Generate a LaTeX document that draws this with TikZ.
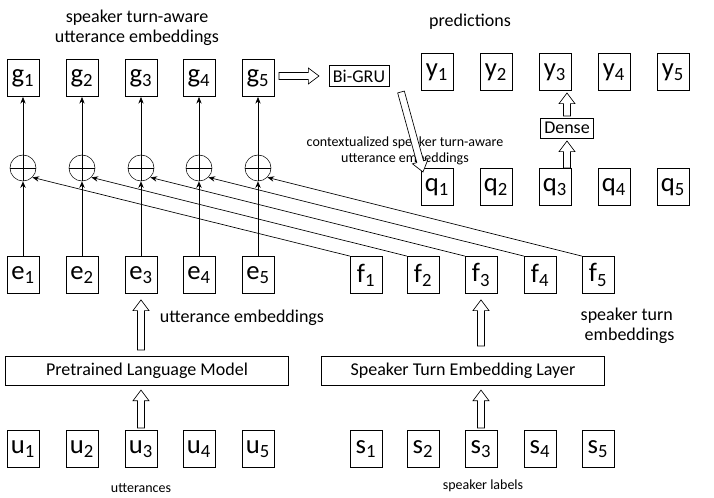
\documentclass[tikz,border=0pt]{standalone}
\usepackage{fontspec}
\setmainfont{Carlito}
\usetikzlibrary{arrows.meta,calc}
\newcommand\harrow[2]{\draw[line width=0.5pt,fill=white] let \p1=(#1),\p2=(#2),\n1={atan2(\y2-\y1,\x2-\x1)},\n2={veclen(\x2-\x1,\y2-\y1)} in [shift={(\p1)},rotate=\n1] (0pt,-2.6pt)--(\n2-8pt,-2.6pt)--(\n2-8pt,-6pt)--(\n2,0pt)--(\n2-8pt,6pt)--(\n2-8pt,2.6pt)--(0pt,2.6pt)--cycle;}
\begin{document}
\begin{tikzpicture}[x=0.75pt,y=-0.75pt,
  bx/.style={draw,minimum width=24pt,minimum height=28pt,inner sep=1pt,font=\fontsize{20}{21}\selectfont},
  wb/.style={draw,inner sep=3pt,font=\fontsize{13.5}{14}\selectfont},
  lab/.style={font=\fontsize{13.5}{15}\selectfont,align=center},
  pl/.style={draw,circle,minimum size=19.5pt,inner sep=0pt},
  ar/.style={-{Stealth[length=5pt,width=4pt]},line width=0.5pt}]
\useasboundingbox (0,0) rectangle (714,498);
\foreach \i/\x in {1/23,2/82,3/141,4/199,5/258}{
  \node[bx] (g\i) at (\x,78) {g\textsubscript{\i}};
  \node[pl] (p\i) at (\x,168) {};
  \draw[line width=0.4pt] (p\i.north)--(p\i.south) (p\i.west)--(p\i.east);
  \node[bx] (e\i) at (\x,275) {e\textsubscript{\i}};
  \node[bx] (u\i) at (\x,449) {u\textsubscript{\i}};
  \draw[ar] (e\i)--(p\i);
  \draw[ar] (p\i)--(g\i);
}
\foreach \i/\x in {1/366,2/423,3/481,4/540,5/598}{
  \node[bx] (f\i) at (\x,275) {f\textsubscript{\i}};
  \node[bx] (s\i) at (\x,449) {s\textsubscript{\i}};
  \draw[ar] (f\i.north west)--(p\i.south east);
}
\foreach \i/\x in {1/437,2/496,3/555,4/614,5/673}{
  \node[bx] (y\i) at (\x,72) {y\textsubscript{\i}};
  \node[bx] (q\i) at (\x,187) {q\textsubscript{\i}};
}
\node[wb] (gru) at (359,76) {Bi-GRU};
\node[wb] (dense) at (567,128) {Dense};
\node[wb,minimum width=212pt,minimum height=22pt] (plm) at (147,371) {Pretrained Language Model};
\node[wb,minimum width=212pt,minimum height=22pt] (stel) at (463,371) {Speaker Turn Embedding Layer};
\coordinate (a1) at (279,76); \coordinate (a2) at (319,76);
\coordinate (b1) at (401,92); \coordinate (b2) at (423,172);
\node[lab,font=\fontsize{10.5}{12}\selectfont] (t3) at (405,151) {contextualized speaker turn-aware\\utterance embeddings};
\harrow{a1}{a2}
\harrow{b1}{b2}
\coordinate (m1) at (567,168); \coordinate (m2) at (567,141);
\coordinate (n1) at (567,116); \coordinate (n2) at (567,93);
\harrow{m1}{m2}
\harrow{n1}{n2}
\path (e3.south) ++(0,6) coordinate (c2) ++(0,50) coordinate (c1);
\harrow{c1}{c2}
\path (f3.south) ++(0,6) coordinate (d2) ++(0,46) coordinate (d1);
\harrow{d1}{d2}
\path (u3.north) ++(0,-2) coordinate (h1) ++(0,-38) coordinate (h2);
\harrow{h1}{h2}
\path (s3.north) ++(0,-2) coordinate (k1) ++(0,-38) coordinate (k2);
\harrow{k1}{k2}
\node[lab] (t1) at (137,28) {speaker turn-aware\\utterance embeddings};
\node[lab] (t2) at (470,22) {predictions};
\node[lab] (t4) at (242,318) {utterance embeddings};
\node[lab,align=left,anchor=west] (t5) at (576,326) {speaker turn\\\hspace*{3pt}embeddings};
\node[lab,font=\fontsize{10.5}{12}\selectfont] (t6) at (141,488) {utterances};
\node[lab,font=\fontsize{10.5}{12}\selectfont] (t7) at (483,486) {speaker labels};
\end{tikzpicture}
\end{document}
